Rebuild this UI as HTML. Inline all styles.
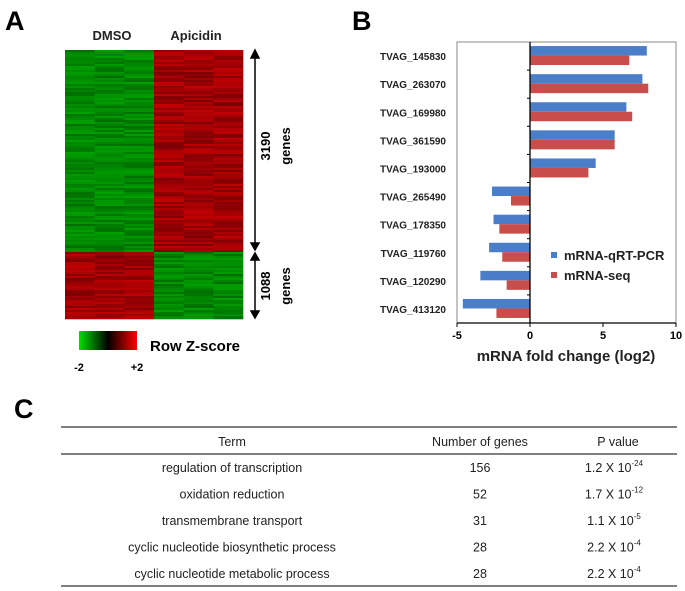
<!DOCTYPE html>
<html><head><meta charset="utf-8"><style>
html,body{margin:0;padding:0;background:#fff;}
svg{display:block;font-family:"Liberation Sans",Arial,sans-serif;}
</style></head><body>
<svg id="fig" width="685" height="591" viewBox="0 0 685 591">
<text x="5" y="30" font-size="27" font-weight="bold">A</text>
<text x="352" y="30" font-size="27" font-weight="bold">B</text>
<text x="14" y="418" font-size="27" font-weight="bold">C</text>

<text x="112" y="40" font-size="13" font-weight="bold" text-anchor="middle" fill="#222">DMSO</text>
<text x="196" y="40" font-size="13" font-weight="bold" text-anchor="middle" fill="#222">Apicidin</text>
<g id="heat"></g>

<g stroke="#000" stroke-width="1.5">
<line x1="255" y1="56" x2="255" y2="245"/>
<polygon points="251,58 259,58 255,50" fill="#000"/>
<polygon points="251,243 259,243 255,250" fill="#000"/>
</g>
<text transform="translate(270,146) rotate(-90)" font-size="13" font-weight="bold" text-anchor="middle">3190</text>
<text transform="translate(290,146) rotate(-90)" font-size="13" font-weight="bold" text-anchor="middle">genes</text>
<g stroke="#000" stroke-width="1.5">
<line x1="255" y1="258" x2="255" y2="314"/>
<polygon points="251,260 259,260 255,253" fill="#000"/>
<polygon points="251,311 259,311 255,318" fill="#000"/>
</g>
<text transform="translate(270,286) rotate(-90)" font-size="13" font-weight="bold" text-anchor="middle">1088</text>
<text transform="translate(290,286) rotate(-90)" font-size="13" font-weight="bold" text-anchor="middle">genes</text>

<defs><linearGradient id="zg" x1="0" x2="1"><stop offset="0" stop-color="#00e000"/><stop offset="0.5" stop-color="#000"/><stop offset="1" stop-color="#ff0000"/></linearGradient></defs>
<rect x="79" y="331" width="58" height="19" fill="url(#zg)"/>
<text x="150" y="351" font-size="15" font-weight="bold">Row Z-score</text>
<text x="79" y="371" font-size="11" font-weight="bold" text-anchor="middle">-2</text>
<text x="137" y="371" font-size="11" font-weight="bold" text-anchor="middle">+2</text>

<g id="bars"></g>

<g font-size="12.5" fill="#222" text-anchor="middle">
<line x1="61" y1="427" x2="677" y2="427" stroke="#555" stroke-width="1.5"/>
<line x1="61" y1="454" x2="677" y2="454" stroke="#555" stroke-width="1.5"/>
<line x1="61" y1="586" x2="677" y2="586" stroke="#555" stroke-width="1.5"/>
<text x="232" y="446">Term</text>
<text x="480" y="446">Number of genes</text>
<text x="618" y="446">P value</text>
<g id="rows"></g>
</g>
</svg>
<script>
// Bar chart data
const genes=["TVAG_145830","TVAG_263070","TVAG_169980","TVAG_361590","TVAG_193000","TVAG_265490","TVAG_178350","TVAG_119760","TVAG_120290","TVAG_413120"];
const qpcr=[8.0,7.7,6.6,5.8,4.5,-2.6,-2.5,-2.8,-3.4,-4.6];
const seq=[6.8,8.1,7.0,5.8,4.0,-1.3,-2.1,-1.9,-1.6,-2.3];
const xTicks=[-5,0,5,10];
// Table data
const terms=["regulation of transcription","oxidation reduction","transmembrane transport","cyclic nucleotide biosynthetic process","cyclic nucleotide metabolic process"];
const counts=[156,52,31,28,28];
const pMant=["1.2","1.7","1.1","2.2","2.2"];
const pExp=["-24","-12","-5","-4","-4"];

const NS="http://www.w3.org/2000/svg";
function mk(tag,attrs,parent){const e=document.createElementNS(NS,tag);for(const k in attrs)e.setAttribute(k,attrs[k]);parent.appendChild(e);return e;}

// bar chart
const B=document.getElementById('bars');
const X0=457,X1=676,Y0=42,Y1=323;
const xs=v=>X0+(v-(-5))/15*(X1-X0);
const band=(Y1-Y0)/genes.length;
const frame=mk('rect',{x:X0,y:Y0,width:X1-X0,height:Y1-Y0,fill:'none',stroke:'#888','stroke-width':1},B);


genes.forEach((g,i)=>{
  const yc=Y0+band*(i+0.5);
  const t=mk('text',{x:446,y:yc+4,'font-size':10,'font-weight':'bold','text-anchor':'end',fill:'#222'},B);t.textContent=g;
  
  
  const a=qpcr[i],b=seq[i];
  const r1=mk('rect',{x:Math.min(xs(0),xs(a)),y:yc-10,width:Math.abs(xs(a)-xs(0)),height:9.5,fill:'#4a7ec9'},B);
  
  
  const r2=mk('rect',{x:Math.min(xs(0),xs(b)),y:yc-0.5,width:Math.abs(xs(b)-xs(0)),height:9.5,fill:'#c84e4c'},B);
  
  
  if(i>0) mk('line',{x1:xs(0)-3,x2:xs(0),y1:Y0+band*i,y2:Y0+band*i,stroke:'#000'},B);
});
mk('line',{x1:xs(0),x2:xs(0),y1:Y0,y2:Y1,stroke:'#000','stroke-width':1.3},B);
mk('line',{x1:X0,x2:X1,y1:Y1,y2:Y1,stroke:'#000','stroke-width':1.3},B);
xTicks.forEach(v=>{
  mk('line',{x1:xs(v),x2:xs(v),y1:Y1,y2:Y1+4,stroke:'#000'},B);
  const t=mk('text',{x:xs(v),y:Y1+16,'font-size':11,'font-weight':'bold','text-anchor':'middle'},B);t.textContent=v;
  
  
});
const xl=mk('text',{x:566,y:361,'font-size':15,'font-weight':'bold','text-anchor':'middle',fill:'#222'},B);xl.textContent='mRNA fold change (log2)';


[["mRNA-qRT-PCR",'#4a7ec9',256],["mRNA-seq",'#c84e4c',276]].forEach(([n,c,y])=>{
  const g=mk('g',{},B);
  
  
  mk('rect',{x:551,y:y-4,width:6,height:6,fill:c},g);
  const t=mk('text',{x:564,y:y+4,'font-size':13,'font-weight':'bold',fill:'#222'},g);t.textContent=n;
});

// heatmap (texture rows)
const H=document.getElementById('heat');
let seed=7;function rnd(){seed=(seed*16807)%2147483647;return seed/2147483647;}
const HX0=65,HX1=243,HSPLIT=252,HB=319,HT=50,cw=(HX1-HX0)/6;
function cell(x,y,w,h,col){mk('rect',{x:x,y:y,width:w+0.3,height:h+0.3,fill:col},H);}
for(let y=HT;y<HB;y+=2){
  const up=y<HSPLIT;
  for(let c=0;c<6;c++){
    const red=(c>=3)===up;
    const v=rnd();
    const col=red?`rgb(${Math.round(125+v*70)},0,${Math.round(rnd()*6)})`:`rgb(0,${Math.round(110+v*50)},0)`;
    cell(HX0+c*cw,y,cw,Math.min(2,(up?HSPLIT:HB)-y),col);
  }
}

// table rows
const R=document.getElementById('rows');
terms.forEach((t,i)=>{
  const y=472+i*26.5;
  const a=mk('text',{x:232,y:y},R);a.textContent=t;
  
  
  const b=mk('text',{x:480,y:y},R);b.textContent=counts[i];
  
  
  const p=mk('text',{x:614,y:y},R);
  
  
  p.textContent=pMant[i]+' X 10';
  const s=mk('tspan',{dy:-6,'font-size':8},p);s.textContent=pExp[i];
});
</script>
</body></html>
